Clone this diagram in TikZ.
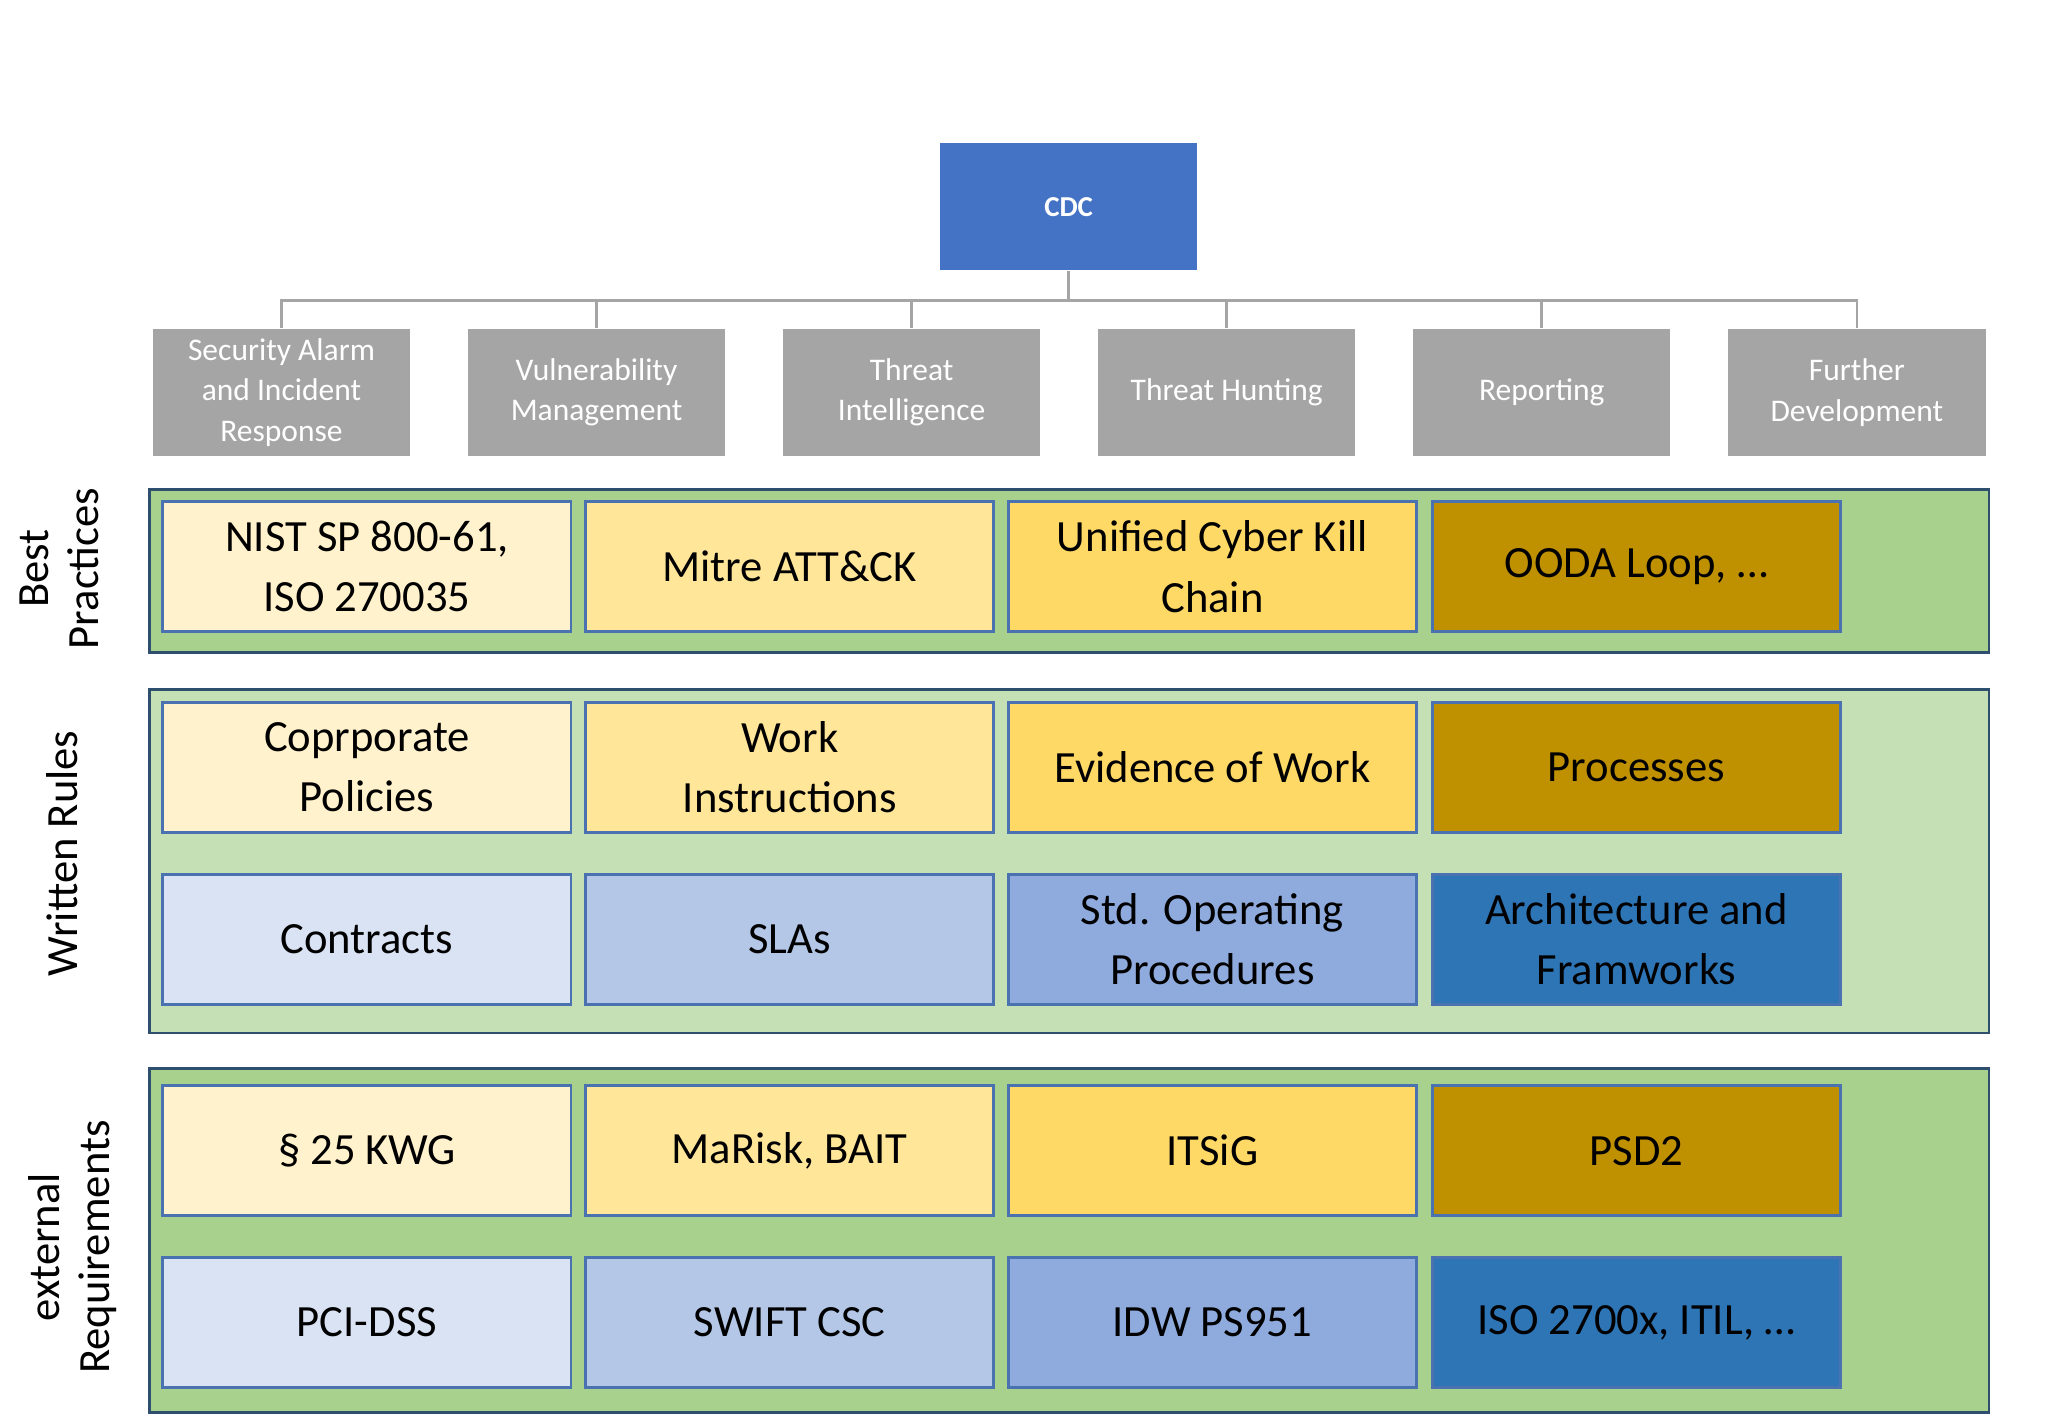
\documentclass[tikz,border=0pt]{standalone}
\usepackage{fontspec}
\setmainfont{Carlito}
\definecolor{cdc}{HTML}{4472C4}
\definecolor{gr}{HTML}{A5A5A5}
\definecolor{pa}{HTML}{A9D18E}
\definecolor{pb}{HTML}{C5E0B4}
\definecolor{pbd}{HTML}{2F4F6F}
\definecolor{ya}{HTML}{FFF2CC}
\definecolor{yb}{HTML}{FFE699}
\definecolor{yc}{HTML}{FFD966}
\definecolor{yd}{HTML}{BF9000}
\definecolor{ba}{HTML}{DAE3F3}
\definecolor{bb}{HTML}{B4C7E7}
\definecolor{bc}{HTML}{8FAADC}
\definecolor{bd}{HTML}{2E75B6}
\definecolor{bx}{HTML}{4A72B0}
\begin{document}
\begin{tikzpicture}[x=0.5pt,y=-0.5pt,
  cell/.style={draw=bx,line width=1pt,minimum width=155.5pt,minimum height=49.5pt,inner sep=0pt,align=center,font=\fontsize{17}{23}\selectfont,anchor=north west},
  gbox/.style={fill=gr,minimum width=98pt,minimum height=48.5pt,inner sep=0pt,align=center,text=white,font=\fontsize{12}{15.5}\selectfont,anchor=north west},
  panel/.style={draw=pbd,line width=1pt,anchor=north west,inner sep=0pt,minimum width=700.5pt},
  side/.style={rotate=90,align=center,font=\fontsize{17}{19}\selectfont},
  conn/.style={draw=gr,line width=1pt}]
\useasboundingbox (0,0) rectangle (1560,1079.4);
\node[fill=cdc,minimum width=98pt,minimum height=48.5pt,inner sep=0pt,text=white,font=\bfseries\fontsize{11}{13}\selectfont] (cdc) at (814,157.5) {CDC};
\foreach \n/\x/\t in {g1/116/{Security Alarm\\and Incident\\Response},g2/356/{Vulnerability\\Management},g3/596/{Threat\\Intelligence},g4/836/{Threat Hunting},g5/1076/{Reporting},g6/1316/{Further\\Development}}
  \node[gbox] (\n) at (\x,250) {\t};
\coordinate (hub) at (814,229);
\draw[conn] (cdc.south) -- (hub);
\foreach \n in {g1,g2,g3,g4,g5,g6} \draw[conn] (hub) -| (\n.north);
\node[panel,fill=pa,minimum height=62pt] (p1) at (113,372) {};
\node[panel,fill=pb,minimum height=131pt] (p2) at (113,524) {};
\node[panel,fill=pa,minimum height=131pt] (p3) at (113,813) {};
\node[side] (s1) at (45,433) {Best\\Practices};
\node[side] (s2) at (47,650) {Written Rules};
\node[side] (s3) at (55,950) {external\\Requirements};
% best practices
\node[cell,fill=ya] (a1) at (123,381) {NIST SP 800-61,\\ISO 270035};
\node[cell,fill=yb] (a2) at (445,381) {Mitre ATT\&CK};
\node[cell,fill=yc] (a3) at (767,381) {Unified Cyber Kill\\Chain};
\node[cell,fill=yd] (a4) at (1090,381) {OODA Loop, …};
% written rules
\node[cell,fill=ya] (b1) at (123,534) {Coprporate\\Policies};
\node[cell,fill=yb] (b2) at (445,534) {Work\\Instructions};
\node[cell,fill=yc] (b3) at (767,534) {Evidence of Work};
\node[cell,fill=yd] (b4) at (1090,534) {Processes};
\node[cell,fill=ba] (c1) at (123,665) {Contracts};
\node[cell,fill=bb] (c2) at (445,665) {SLAs};
\node[cell,fill=bc] (c3) at (767,665) {Std. Operating\\Procedures};
\node[cell,fill=bd] (c4) at (1090,665) {Architecture and\\Framworks};
% external
\node[cell,fill=ya] (d1) at (123,826) {§ 25 KWG};
\node[cell,fill=yb] (d2) at (445,826) {MaRisk, BAIT};
\node[cell,fill=yc] (d3) at (767,826) {ITSiG};
\node[cell,fill=yd] (d4) at (1090,826) {PSD2};
\node[cell,fill=ba] (e1) at (123,957) {PCI-DSS};
\node[cell,fill=bb] (e2) at (445,957) {SWIFT CSC};
\node[cell,fill=bc] (e3) at (767,957) {IDW PS951};
\node[cell,fill=bd] (e4) at (1090,957) {ISO 2700x, ITIL, …};
\end{tikzpicture}
\end{document}
